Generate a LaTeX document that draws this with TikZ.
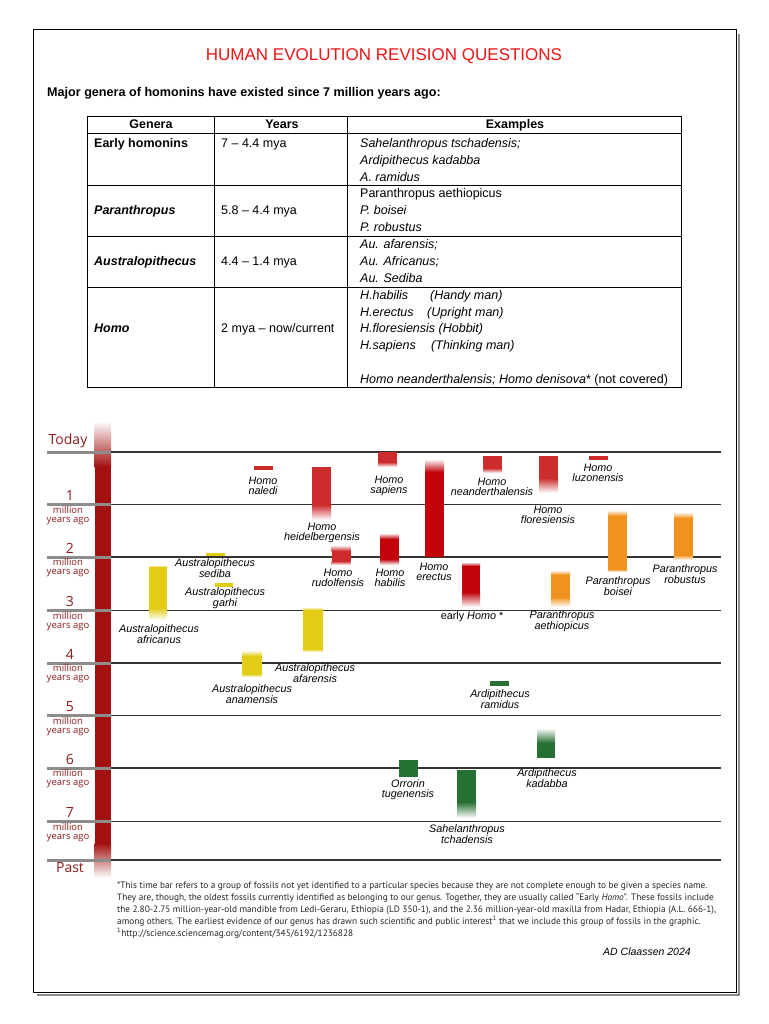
\documentclass[tikz,border=0pt]{standalone}
\usepackage{fontspec}
\setmainfont{Liberation Sans}
\newfontfamily\chartfont{Open Sans}
\newfontfamily\notefont{PT Sans}
\definecolor{titlered}{RGB}{240,20,20}
\definecolor{homored}{RGB}{204,44,44}
\definecolor{homodark}{RGB}{192,4,10}
\definecolor{austyellow}{RGB}{226,204,22}
\definecolor{paraorange}{RGB}{240,146,30}
\definecolor{ardgreen}{RGB}{38,112,52}
\definecolor{timebar}{RGB}{162,16,16}
\definecolor{datered}{RGB}{140,28,28}
\begin{document}
\begin{tikzpicture}[x=1pt,y=-1pt,
    tabtxt/.style={anchor=base west,inner sep=0,font=\fontsize{12.5}{15}\selectfont},
    tabhead/.style={anchor=base,inner sep=0,font=\bfseries\fontsize{12.5}{15}\selectfont},
    splabel/.style={inner sep=0,align=center,font=\itshape\fontsize{10.8}{9.8}\selectfont},
    num/.style={inner sep=0,text=datered,font=\chartfont\fontsize{14}{14}\selectfont},
    mya/.style={inner sep=0,align=center,text=datered,font=\chartfont\fontsize{9.5}{9}\selectfont},
    ageline/.style={draw=black!80,line width=1.2pt},
    agestub/.style={draw=black!45,line width=3pt},
    note/.style={anchor=base west,inner sep=0,text=black!85,font=\notefont\fontsize{9.3}{11}\selectfont},
    %% fade in from white at the top end / fade out to white at the lower end
    fadedown/.style={top color=white,bottom color=#1},
    fadeup/.style={top color=#1,bottom color=white}]

    \useasboundingbox (0,0) rectangle (768,1024);
    \fill[white] (0,0) rectangle (768,1024);

    %%frame
    \draw[black!45,line width=2.5pt] (739,34) to (739,995) to (37,995);
    \draw[line width=1pt] (33,30) rectangle (736,992);

    %%heading
    \node[anchor=base,inner sep=0,text=titlered,font=\fontsize{17}{20}\selectfont] (title) at (384,61) {HUMAN EVOLUTION REVISION QUESTIONS};
    \node[anchor=base west,inner sep=0,font=\bfseries\fontsize{12.6}{15}\selectfont] (intro) at (47,96.5) {Major genera of homonins have existed since 7 million years ago:};

    %%table
    \draw[line width=0.8pt] (87,116) rectangle (681,387);
    \draw[line width=0.8pt] (87,133) to (681,133);
    \draw[line width=0.8pt] (87,185) to (681,185);
    \draw[line width=0.8pt] (87,236) to (681,236);
    \draw[line width=0.8pt] (87,287) to (681,287);
    \draw[line width=0.8pt] (214,116) to (214,387);
    \draw[line width=0.8pt] (347,116) to (347,387);

        \node[tabhead] (hgen) at (151,128.5){Genera};
        \node[tabhead] (hyrs) at (282,128.5){Years};
        \node[tabhead] (hexa) at (515,128.5){Examples};

    %%row 1
        \node[tabtxt,font=\bfseries\fontsize{12.5}{15}\selectfont] (g1) at (94,147.5){Early homonins};
        \node[tabtxt] (y1) at (221,147.5){7 -- 4.4 mya};
        \node[tabtxt,font=\itshape\fontsize{12.5}{15}\selectfont] (e1a) at (360,147.5){Sahelanthropus tschadensis;};
        \node[tabtxt,font=\itshape\fontsize{12.5}{15}\selectfont] (e1b) at (360,164.5){Ardipithecus kadabba};
        \node[tabtxt,font=\itshape\fontsize{12.5}{15}\selectfont] (e1c) at (360,181.5){A. ramidus};
    %%row 2
        \node[tabtxt,font=\bfseries\itshape\fontsize{12.5}{15}\selectfont] (g2) at (94,214.5){Paranthropus};
        \node[tabtxt] (y2) at (221,214.5){5.8 -- 4.4 mya};
        \node[tabtxt] (e2a) at (360,197.5){Paranthropus aethiopicus};
        \node[tabtxt,font=\itshape\fontsize{12.5}{15}\selectfont] (e2b) at (360,214.5){P. boisei};
        \node[tabtxt,font=\itshape\fontsize{12.5}{15}\selectfont] (e2c) at (360,231.5){P. robustus};
    %%row 3
        \node[tabtxt,font=\bfseries\itshape\fontsize{12.5}{15}\selectfont] (g3) at (94,265.5){Australopithecus};
        \node[tabtxt] (y3) at (221,265.5){4.4 -- 1.4 mya};
        \node[tabtxt,font=\itshape\fontsize{12.5}{15}\selectfont] (e3a) at (360,248.5){Au. afarensis;};
        \node[tabtxt,font=\itshape\fontsize{12.5}{15}\selectfont] (e3b) at (360,265.5){Au. Africanus;};
        \node[tabtxt,font=\itshape\fontsize{12.5}{15}\selectfont] (e3c) at (360,282.5){Au. Sediba};
    %%row 4
        \node[tabtxt,font=\bfseries\itshape\fontsize{12.5}{15}\selectfont] (g4) at (94,332.5){Homo};
        \node[tabtxt] (y4) at (221,332.5){2 mya -- now/current};
        \node[tabtxt,font=\itshape\fontsize{12.5}{15}\selectfont] (e4a) at (360,299.5){H.habilis};
            \node[tabtxt,font=\itshape\fontsize{12.5}{15}\selectfont] (n4a) at (430,299.5){(Handy man)};
        \node[tabtxt,font=\itshape\fontsize{12.5}{15}\selectfont] (e4b) at (360,316){H.erectus};
            \node[tabtxt,font=\itshape\fontsize{12.5}{15}\selectfont] (n4b) at (427,316){(Upright man)};
        \node[tabtxt,font=\itshape\fontsize{12.5}{15}\selectfont] (e4c) at (360,332.5){H.floresiensis (Hobbit)};
        \node[tabtxt,font=\itshape\fontsize{12.5}{15}\selectfont] (e4d) at (360,349.5){H.sapiens};
            \node[tabtxt,font=\itshape\fontsize{12.5}{15}\selectfont] (n4d) at (431,349.5){(Thinking man)};
        \node[tabtxt] (e4e) at (360,383.5){\textit{Homo neanderthalensis; Homo denisova}* (not covered)};

    %%time bar
    \fill[timebar] (94.5,467) rectangle (111,843);
    \shade[fadedown=timebar] (94.5,421) rectangle (111,467);
    \shade[fadeup=timebar] (94.5,843) rectangle (111,878);

    %%age lines
    \draw[ageline] (111,452) to (721,452);
    \draw[ageline] (111,504.5) to (721,504.5);
    \draw[ageline] (111,557) to (721,557);
    \draw[ageline] (111,610.5) to (721,610.5);
    \draw[ageline] (111,663) to (721,663);
    \draw[ageline] (111,715.5) to (721,715.5);
    \draw[ageline] (111,768) to (721,768);
    \draw[ageline] (111,821.5) to (721,821.5);
    \draw[ageline] (111,860) to (721,860);
        \draw[agestub] (47,452) to (111,452);
        \draw[agestub] (47,504.5) to (111,504.5);
        \draw[agestub] (47,557) to (111,557);
        \draw[agestub] (47,610.5) to (111,610.5);
        \draw[agestub] (47,663) to (111,663);
        \draw[agestub] (47,715.5) to (111,715.5);
        \draw[agestub] (47,768) to (111,768);
        \draw[agestub] (47,821.5) to (111,821.5);
        \draw[agestub] (47,860) to (111,860);

    %%age labels
    \node[num] (today) at (68,441){Today};
    \node[num] (m1) at (70,495.5){1};
        \node[mya] (m1t) at (68,515.5){million\\years ago};
    \node[num] (m2) at (70,548){2};
        \node[mya] (m2t) at (68,568){million\\years ago};
    \node[num] (m3) at (70,601.5){3};
        \node[mya] (m3t) at (68,621.5){million\\years ago};
    \node[num] (m4) at (70,654){4};
        \node[mya] (m4t) at (68,674){million\\years ago};
    \node[num] (m5) at (70,706.5){5};
        \node[mya] (m5t) at (68,726.5){million\\years ago};
    \node[num] (m6) at (70,759){6};
        \node[mya] (m6t) at (68,779){million\\years ago};
    \node[num] (m7) at (70,812){7};
        \node[mya] (m7t) at (68,832.5){million\\years ago};
    \node[num] (past) at (70,868){Past};

    %%Homo
    \fill[homored] (254,466) rectangle (273,470);
        \node[splabel] (naledi) at (263,485.5){Homo\\naledi};
    \fill[homored] (312,467) rectangle (331,505);
    \shade[fadeup=homored] (312,505) rectangle (331,520);
        \node[splabel] (heidel) at (322,533){Homo\\heidelbergensis};
    \fill[homored] (331.5,551) rectangle (350.5,561);
    \shade[fadedown=homored] (331.5,545) rectangle (350.5,551);
    \shade[fadeup=homored] (331.5,561) rectangle (350.5,565);
        \node[splabel] (rudolf) at (338,577.5){Homo\\rudolfensis};
    \fill[homodark] (380,539) rectangle (399,559);
    \shade[fadedown=homodark] (380,533) rectangle (399,539);
    \shade[fadeup=homodark] (380,559) rectangle (399,565);
        \node[splabel] (habilis) at (390,577.5){Homo\\habilis};
    \fill[homored] (378,452) rectangle (397,462);
    \shade[fadeup=homored] (378,462) rectangle (397,467);
        \node[splabel] (sapiens) at (389,486){Homo\\sapiens};
    \fill[homodark] (425,472) rectangle (444,557);
    \shade[fadedown=homodark] (425,459) rectangle (444,472);
        \node[splabel] (erectus) at (434,572){Homo\\erectus};
    \fill[homored] (483,456) rectangle (502,468);
    \shade[fadeup=homored] (483,468) rectangle (502,473);
        \node[splabel] (neander) at (492,487){Homo\\neanderthalensis};
    \fill[homored] (539,456) rectangle (558,478);
    \shade[fadeup=homored] (539,478) rectangle (558,493);
        \node[splabel] (flores) at (548,514.5){Homo\\floresiensis};
    \fill[homored] (589,456) rectangle (608,459.5);
        \node[splabel] (luzon) at (598,472.5){Homo\\luzonensis};
    \fill[homodark] (462,566) rectangle (480,592);
    \shade[fadedown=homodark] (462,562) rectangle (480,566);
    \shade[fadeup=homodark] (462,592) rectangle (480,607);
        \node[splabel] (early) at (472,617){\upshape early \itshape Homo \upshape*};

    %%Paranthropus
    \fill[paraorange] (551,575) rectangle (570,597);
    \shade[fadedown=paraorange] (551,570) rectangle (570,575);
    \shade[fadeup=paraorange] (551,597) rectangle (570,607);
        \node[splabel] (aethiop) at (562,621){Paranthropus\\aethiopicus};
    \fill[paraorange] (608,516) rectangle (627,569);
    \shade[fadedown=paraorange] (608,510) rectangle (627,516);
    \shade[fadeup=paraorange] (608,569) rectangle (627,572);
        \node[splabel] (boisei) at (618,586){Paranthropus\\boisei};
    \fill[paraorange] (674,518) rectangle (693,555);
    \shade[fadedown=paraorange] (674,512) rectangle (693,518);
    \shade[fadeup=paraorange] (674,555) rectangle (693,560);
        \node[splabel] (robust) at (685,574.5){Paranthropus\\robustus};

    %%Australopithecus
    \fill[austyellow] (206,552.5) rectangle (225,555.5);
        \node[splabel] (sediba) at (215,568.5){Australopithecus\\sediba};
    \fill[austyellow] (215,583) rectangle (233,587);
        \node[splabel] (garhi) at (225,598.5){Australopithecus\\garhi};
    \fill[austyellow] (149,567) rectangle (167,608);
    \shade[fadedown=austyellow] (149,565) rectangle (167,567);
    \shade[fadeup=austyellow] (149,608) rectangle (167,620);
        \node[splabel] (african) at (159,634){Australopithecus\\africanus};
    \fill[austyellow] (303,610) rectangle (323,649);
    \shade[fadedown=austyellow] (303,607) rectangle (323,610);
    \shade[fadeup=austyellow] (303,649) rectangle (323,652);
        \node[splabel] (afaren) at (315,673){Australopithecus\\afarensis};
    \fill[austyellow] (242,656) rectangle (262,674);
    \shade[fadedown=austyellow] (242,650) rectangle (262,656);
    \shade[fadeup=austyellow] (242,674) rectangle (262,677);
        \node[splabel] (anamen) at (252,694){Australopithecus\\anamensis};

    %%early homonins
    \fill[ardgreen] (490,681) rectangle (509,686);
        \node[splabel] (ramidus) at (500,699){Ardipithecus\\ramidus};
    \fill[ardgreen] (537,743) rectangle (555,758);
    \shade[fadedown=ardgreen] (537,728) rectangle (555,743);
        \node[splabel] (kadabba) at (547,778.5){Ardipithecus\\kadabba};
    \fill[ardgreen] (399,760) rectangle (418,777);
        \node[splabel] (orrorin) at (408,790){Orrorin\\tugenensis};
    \fill[ardgreen] (457,770) rectangle (476,802);
    \shade[fadeup=ardgreen] (457,802) rectangle (476,818);
        \node[splabel] (sahel) at (467,834){Sahelanthropus\\tchadensis};

    %%footnote
    \node[note] (fn1) at (117,888.5){*This time bar refers to a group of fossils not yet identified to a particular species because they are not complete enough to be given a species name.};
    \node[note] (fn2) at (117,900.5){They are, though, the oldest fossils currently identified as belonging to our genus. Together, they are usually called “Early \textit{Homo}”. These fossils include};
    \node[note] (fn3) at (117,912.5){the 2.80-2.75 million-year-old mandible from Ledi-Geraru, Ethiopia (LD 350-1), and the 2.36 million-year-old maxilla from Hadar, Ethiopia (A.L. 666-1),};
    \node[note] (fn4) at (117,924.5){among others. The earliest evidence of our genus has drawn such scientific and public interest\textsuperscript{1} that we include this group of fossils in the graphic.};
    \node[note] (fn5) at (117,936.5){\textsuperscript{1}http://science.sciencemag.org/content/345/6192/1236828};

    \node[anchor=base,inner sep=0,font=\itshape\fontsize{10.5}{12}\selectfont] (author) at (647,955){AD Claassen 2024};
\end{tikzpicture}
\end{document}
